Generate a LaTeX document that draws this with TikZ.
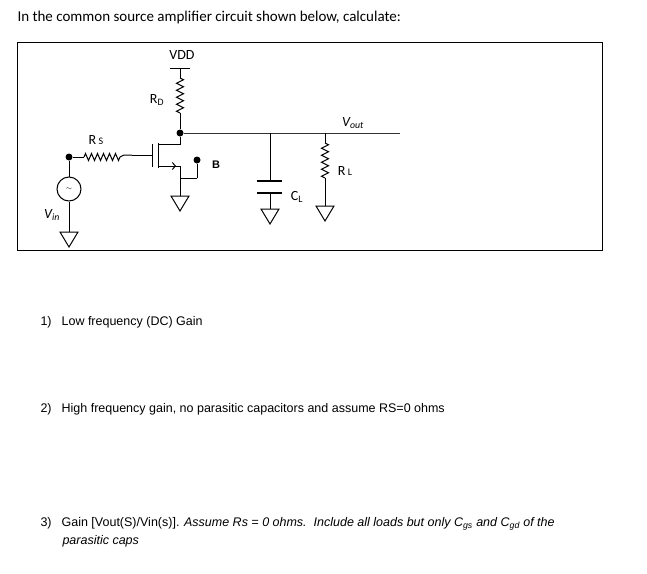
\documentclass[tikz,border=0pt]{standalone}
\usepackage{fontspec}
\setmainfont{Liberation Sans}
\newfontfamily\calfont{Carlito}
\usetikzlibrary{decorations.pathmorphing,arrows.meta}
\begin{document}
\begin{tikzpicture}[x=1pt,y=-1pt,line width=1pt,
 wire/.style={draw=black!80},
 zz/.style={decorate,decoration={zigzag,segment length=7pt,amplitude=3.5pt}},
 dot/.style={circle,fill=black,inner sep=0pt,minimum size=7pt},
 txt/.style={inner sep=0pt,anchor=west,font=\fontsize{12.5}{14}\selectfont},
 lbl/.style={inner sep=0pt,font=\calfont\fontsize{14}{16}\selectfont}]
\useasboundingbox (0,0) rectangle (647,573);
\tikzset{gnd/.pic={\draw (-9,0)--(9,0)--(0,15)--cycle;}}
\node[inner sep=0pt,anchor=west,font=\calfont\fontsize{15}{17}\selectfont] (title) at (17,17) {In the common source amplifier circuit shown below, calculate:};
\draw[line width=0.8pt] (17,42) rectangle (602,250);
% VDD and RD
\node[lbl] (vdd) at (182,55) {VDD};
\coordinate (vt) at (180,68);
\draw (170,68)--(190,68);
\draw (vt)--(180,78);
\draw[zz] (180,78)--(180,113);
\node[dot] (d) at (180,133) {};
\draw (180,113)--(d);
\node[lbl] (rd) at (157,100) {R\textsubscript{D}};
% output line
\coordinate (oe) at (400,133);
\draw[wire] (d)--(oe);
\node[lbl,font=\calfont\itshape\fontsize{14}{16}\selectfont] (vout) at (353,123) {V\textsubscript{out}};
% MOSFET
\draw (152,144)--(152,167);
\draw (158,143)--(158,168);
\draw (158,144)--(180,144)--(d);
\draw[-{Straight Barb[length=3pt,width=7pt]}] (158,166)--(176,166);
\draw (174,166)--(180,166)--(180,196);
\draw (180,178)--(197,178);
\node[dot] (b) at (197,160) {};
\draw (197,178)--(b);
\node[lbl,font=\fontsize{11}{12}\selectfont\bfseries] (bl) at (216,165) {B};
\pic at (180,196) {gnd};
% gate / RS
\draw (132,155)--(152,155);
\node[dot] (vi) at (69,157) {};
\draw (vi)--(84,157);
\draw[zz,segment length=6pt] (84,157)--(120,157);
\draw (120,157)--(124,155)--(132,155);
\node[lbl] (rs) at (96,140) {R\,{\fontsize{10}{11}\selectfont S}};
% source
\node[circle,draw,minimum size=24pt,inner sep=0pt,font=\fontsize{7}{7}\selectfont] (src) at (69,189) {$\sim$};
\draw (vi)--(src);
\draw (src)--(69,232);
\pic at (69,232) {gnd};
\node[lbl,font=\calfont\itshape\fontsize{14}{16}\selectfont] (vin) at (52,215) {V\textsubscript{in}};
% CL
\draw (270,133)--(270,181);
\draw[line width=2pt] (257,181)--(282,181);
\draw[line width=2pt] (257,193)--(282,193);
\draw (270,193)--(270,209);
\pic at (270,209) {gnd};
\node[lbl] (cl) at (297,197) {C\textsubscript{L}};
% RL
\draw (325,133)--(325,143);
\draw[zz] (325,143)--(325,178);
\draw (325,178)--(325,206);
\pic at (325,206) {gnd};
\node[lbl] (rl) at (345,171) {R\,{\fontsize{10}{11}\selectfont L}};
% questions
\node[txt] (q1) at (40,322) {1)\hspace{10pt}Low frequency (DC) Gain};
\node[txt] (q2) at (40,409) {2)\hspace{10pt}High frequency gain, no parasitic capacitors and assume RS=0 ohms};
\node[txt] (q3) at (40,524) {3)\hspace{10pt}Gain [Vout(S)/Vin(s)]. \textit{Assume Rs = 0 ohms.\ \ Include all loads but only C\textsubscript{gs} and C\textsubscript{gd} of the}};
\node[txt] (q3b) at (62,541) {\textit{parasitic caps}};
\end{tikzpicture}
\end{document}
